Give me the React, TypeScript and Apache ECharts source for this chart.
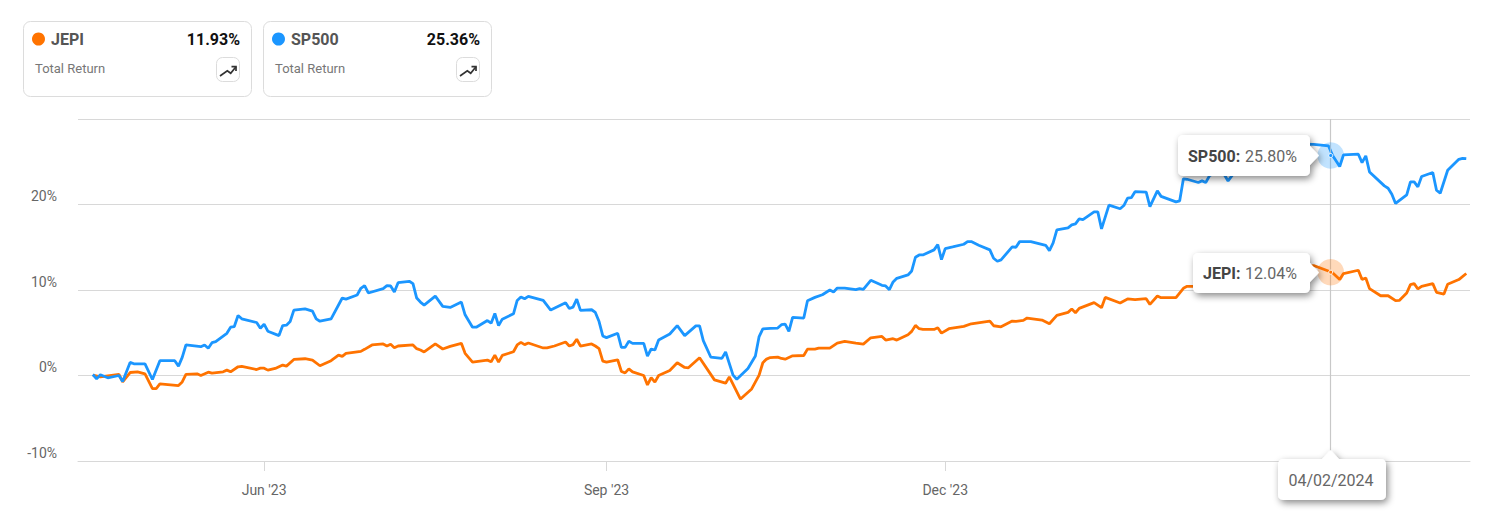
import React, { useEffect, useRef } from "react";
import * as echarts from "echarts";

const axisStart = "2023-04-12";
const axisDayCount = 375;
const firstPointIndex = 4;
const tickDates = ["2023-06-01", "2023-09-01", "2023-12-01"];
const tickLabels = ["Jun '23", "Sep '23", "Dec '23"];

const spDays = [0,1,2,4,7,8,10,11,14,16,18,22,23,24,25,29,30,31,32,33,36,37,38,39,40,44,45,46,47,50,51,52,53,54,57,59,60,61,64,67,68,71,72,73,74,78,79,80,81,82,85,86,87,88,89,92,94,96,99,100,102,103,106,107,108,109,110,113,114,115,116,117,121,123,127,128,129,130,131,134,135,136,137,138,141,142,143,144,145,148,149,150,151,152,155,157,159,162,163,164,166,169,170,172,173,176,178,179,180,182,184,185,186,187,188,191,192,194,196,198,199,200,202,205,206,207,209,212,213,214,215,216,219,220,221,222,223,226,227,228,229,231,234,235,236,238,241,242,243,244,247,248,249,252,256,257,258,259,262,263,264,265,266,269,270,271,273,276,277,278,279,280,283,284,286,287,291,292,293,294,297,298,299,300,303,305,306,308,312,316,321,328,332,333,335,336,340,341,342,343,347,348,349,350,353,354,355,356,357,360,361,362,364,367,368,369];
const spValues = [0.12,-0.39,0.08,-0.27,0,-0.71,1.53,1.37,1.37,-0.47,1.73,1.73,1.1,2.12,3.57,3.37,3.57,3.18,3.84,3.96,4.94,5.65,5.73,7.02,6.63,6.2,5.53,6,5.18,4.67,5.84,5.88,6.31,7.65,7.8,7.53,6.63,6.35,6.63,9.06,8.94,9.41,10.2,10.51,9.65,10.16,10.51,10.47,9.76,10.86,11.02,10.75,9.06,8.59,8.24,9.29,8.08,7.96,8.59,7.1,5.65,5.65,6.43,6.12,7.25,5.84,6.59,7.22,8.78,9.18,8.98,9.25,8.78,7.65,8.51,7.84,8,8.94,7.61,7.69,7.37,6.31,4.63,4.43,4.94,3.29,3.29,4,3.76,3.76,2.27,3.1,2.98,4.16,4.86,5.84,4.67,5.8,5.8,4.08,2.16,2,2.75,0.04,-0.43,0.82,2.27,4.55,5.45,5.5,5.55,5.94,6,5.16,6.8,6.72,8.75,9.14,9.45,10,9.77,10.23,10.23,10.04,10.16,10.08,11.13,10.55,10.47,10.04,10.94,11.37,11.76,12.23,13.83,14.1,14.1,14.69,15.31,13.55,14.84,15.04,15.35,15.66,15.66,15.23,14.69,13.71,13.36,13.52,15.04,15,15.66,15.66,15.23,14.61,15.5,17.03,17.27,17.62,17.73,18.32,18.24,19.14,19.14,17.15,19.92,19.5,19.88,20.75,20.8,21.5,21.45,19.75,21.6,20.95,20.3,20.43,23,22.95,22.57,22.76,22.57,23.35,24.2,22.76,23.35,24.5,25.5,26.5,27.1,27.04,26.85,25.8,24.44,25.8,25.88,24.9,25.68,23.81,22.18,21.9,21.2,20.12,21.13,22.65,22.65,22.06,23.27,23.74,21.67,21.32,24,25.29,25.4,25.36];

const jepiDays = [0,2,4,7,8,10,12,14,16,17,18,23,24,25,28,29,31,32,35,36,37,39,40,44,45,46,47,49,51,52,54,57,59,61,64,66,67,68,72,73,75,78,79,80,81,82,86,87,88,89,92,94,96,99,100,102,106,107,108,109,110,113,114,115,116,117,121,122,124,127,128,129,130,131,134,135,136,137,138,141,142,143,144,145,148,149,150,151,152,155,157,159,160,163,167,170,171,174,177,179,180,181,182,184,185,186,188,191,192,194,195,198,200,202,205,207,209,212,213,215,216,219,220,221,222,223,226,227,228,230,234,236,241,242,244,247,248,250,251,255,257,259,262,263,264,265,269,271,272,276,278,280,283,284,286,287,291,293,294,296,300,305,310,315,320,325,328,333,335,336,340,341,342,343,346,348,350,351,353,354,355,356,357,360,361,363,364,367,369];
const jepiValues = [0.04,-0.16,-0.04,0.12,-0.75,0.35,0.43,0.2,-1.53,-1.53,-0.98,-1.18,-0.75,0.12,0.2,0,0.39,0.27,0.43,0.63,0.43,1.02,1.06,0.7,0.86,0.86,0.63,0.82,1.22,1.1,1.88,1.96,1.8,1.14,1.73,2.39,2.24,2.59,2.82,3.06,3.57,3.69,3.45,3.65,3.25,3.45,3.57,3.14,2.98,2.75,3.69,3.1,3.41,3.76,2.59,1.57,1.8,1.61,2.39,1.57,2.35,2.78,3.57,3.88,3.61,3.8,3.22,3.22,3.45,3.92,3.45,3.61,4.24,3.45,3.69,3.45,3.14,1.69,1.57,1.84,0.47,0.31,0.78,0.43,0,-1.1,-0.24,-0.78,0,0.59,1.49,0.94,0.9,2.08,-0.51,-0.9,-0.16,-2.75,-1.57,0.04,1.49,1.92,2.1,2.15,1.99,1.91,2.3,2.34,3.09,3.09,3.2,3.2,3.79,3.98,3.79,3.67,4.41,4.57,4.14,4.3,4.14,4.77,5.16,5.86,5.47,5.39,5.39,5.59,4.96,5.47,5.74,6.05,6.37,5.82,5.7,6.37,6.33,6.45,6.72,6.48,6.05,7.03,7.38,7.77,7.34,7.85,8.52,7.93,9.14,8.48,8.95,8.87,8.98,8.32,9.3,9.1,9.1,10.2,10.43,10.43,10.6,11,11.3,11.8,12.2,12.7,12.86,12.04,11.22,11.92,12.31,11.22,11.41,10.16,9.33,9.33,8.75,8.78,9.65,10.63,10.75,10.12,10.43,10.75,9.73,9.53,10.67,11.22,11.93];

const ORANGE = "#ff7300";
const BLUE = "#1b96ff";
const FONT = "Roboto";
const DAY = 86400000;
const axisBase = Date.parse(axisStart);
const categories = Array.from({ length: axisDayCount }, (_, i) => new Date(axisBase + i * DAY).toISOString().slice(0, 10));
const tickIndexes = tickDates.map((d) => categories.indexOf(d));
const pairs = (days: number[], values: number[]) => days.map((d, i) => [d + firstPointIndex, values[i]]);

const tipSP = "M1183 135H1305a5 5 0 0 1 5 5V146L1319 155.5L1310 165V171a5 5 0 0 1 -5 5H1183a5 5 0 0 1 -5 -5V140a5 5 0 0 1 5 -5Z";
const tipJE = "M1198 253H1305a5 5 0 0 1 5 5V263L1319 272.5L1310 282V288a5 5 0 0 1 -5 5H1198a5 5 0 0 1 -5 -5V258a5 5 0 0 1 5 -5Z";
const tipDT = "M1283 459H1322L1330.5 450L1339 459H1381a5 5 0 0 1 5 5V495a5 5 0 0 1 -5 5H1283a5 5 0 0 1 -5 -5V464a5 5 0 0 1 5 -5Z";
echarts.graphic.registerShape("tipSP", echarts.graphic.extendPath(tipSP, {}));
echarts.graphic.registerShape("tipJE", echarts.graphic.extendPath(tipJE, {}));
echarts.graphic.registerShape("tipDT", echarts.graphic.extendPath(tipDT, {}));

const txt = (x: number, y: number, text: string, size: number, fill: string, weight = "normal", align = "left") => ({
  type: "text", x, y, z: 30, silent: true,
  style: { text, fontFamily: FONT, fontSize: size, fontWeight: weight, fill, align, verticalAlign: "middle" },
});

const card = (dx: number, color: string, name: string, value: string) => [
  { type: "rect", z: 10, shape: { x: 23.5 + dx, y: 21.5, width: 228, height: 75, r: 7 }, style: { fill: "#fff", stroke: "#dcdcdc", lineWidth: 1 } },
  { type: "circle", z: 11, shape: { cx: 38.5 + dx, cy: 39, r: 6.5 }, style: { fill: color } },
  txt(51 + dx, 39, name, 16, "#555", "bold"),
  txt(240 + dx, 39, value, 16, "#111", "bold", "right"),
  txt(35 + dx, 68.5, "Total Return", 13, "#777"),
  { type: "rect", z: 10, shape: { x: 216.5 + dx, y: 57.5, width: 23, height: 24, r: 6 }, style: { fill: "#fff", stroke: "#dcdcdc", lineWidth: 1 } },
  { type: "polyline", z: 11, shape: { points: [[220 + dx, 76], [227.3 + dx, 70.7], [230.7 + dx, 73.3], [236 + dx, 66.7]] }, style: { stroke: "#333", lineWidth: 1.7, fill: "none" } },
  { type: "polyline", z: 11, shape: { points: [[231.5 + dx, 66.7], [236 + dx, 66.7], [236 + dx, 71]] }, style: { stroke: "#333", lineWidth: 1.7, fill: "none" } },
];

const shadow = { shadowBlur: 7, shadowOffsetX: 2, shadowOffsetY: 3, shadowColor: "rgba(0,0,0,0.45)" };
const isTick = (i: number) => tickIndexes.includes(i);

export default function App() {
  const ref = useRef<HTMLDivElement>(null);
  useEffect(() => {
    document.body.style.margin = "0";
    const chart = echarts.init(ref.current!, null, { renderer: "svg" });
    chart.setOption({
      animation: false,
      backgroundColor: "#fff",
      grid: { left: 78, right: 18, top: 119, bottom: 63 },
      xAxis: {
        type: "category",
        data: categories,
        boundaryGap: false,
        axisLine: { onZero: false, lineStyle: { color: "#d8d8d8", width: 1 } },
        axisTick: { show: true, length: 10, lineStyle: { color: "#d8d8d8" }, interval: isTick },
        axisLabel: {
          show: true,
          interval: isTick,
          hideOverlap: false,
          margin: 22,
          color: "#666",
          fontFamily: FONT,
          fontSize: 14,
          formatter: (v: string) => tickLabels[tickDates.indexOf(v)] ?? "",
        },
        splitLine: { show: false },
      },
      yAxis: {
        type: "value",
        min: -10,
        max: 30,
        interval: 10,
        axisLine: { show: false },
        axisTick: { show: false },
        splitLine: { lineStyle: { color: "#d8d8d8", width: 1 } },
        axisLabel: {
          margin: 21,
          color: "#666",
          fontFamily: FONT,
          fontSize: 14,
          verticalAlign: "bottom",
          lineHeight: 17,
          formatter: (v: number) => (v === 30 ? "" : `${v}%`),
        },
      },
      series: [
        { name: "JEPI", type: "line", data: pairs(jepiDays, jepiValues), showSymbol: false, symbol: "none", lineStyle: { color: ORANGE, width: 2.8 }, itemStyle: { color: ORANGE }, z: 3 },
        { name: "SP500", type: "line", data: pairs(spDays, spValues), showSymbol: false, symbol: "none", lineStyle: { color: BLUE, width: 2.8 }, itemStyle: { color: BLUE }, z: 4 },
      ],
      graphic: [
        ...card(0, ORANGE, "JEPI", "11.93%"),
        ...card(240, BLUE, "SP500", "25.36%"),
        { type: "line", z: 8, shape: { x1: 1330.5, y1: 119, x2: 1330.5, y2: 452 }, style: { stroke: "#c8c8c8", lineWidth: 1.2 } },
        { type: "circle", z: 9, shape: { cx: 1330.7, cy: 155.5, r: 13.3 }, style: { fill: "rgba(27,150,255,0.27)" } },
        { type: "circle", z: 9, shape: { cx: 1330.7, cy: 272.2, r: 13.3 }, style: { fill: "rgba(255,115,0,0.27)" } },
        { type: "circle", z: 20, shape: { cx: 1330.7, cy: 155.5, r: 2 }, style: { fill: BLUE, stroke: "#fff", lineWidth: 1 } },
        { type: "circle", z: 20, shape: { cx: 1330.7, cy: 272.2, r: 2 }, style: { fill: ORANGE, stroke: "#fff", lineWidth: 1 } },
        { type: "tipSP", z: 15, x: 0, y: 0, style: { fill: "#fff", ...shadow } },
        { type: "tipJE", z: 15, x: 0, y: 0, style: { fill: "#fff", ...shadow } },
        { type: "tipDT", z: 15, x: 0, y: 0, style: { fill: "#fff", ...shadow } },
        txt(1188, 156, "SP500:", 16, "#444", "bold"),
        txt(1297, 156, "25.80%", 16, "#666", "normal", "right"),
        txt(1203, 273, "JEPI:", 16, "#444", "bold"),
        txt(1297, 273, "12.04%", 16, "#666", "normal", "right"),
        txt(1331, 480, "04/02/2024", 16, "#666", "normal", "center"),
      ],
    });
    return () => chart.dispose();
  }, []);
  return <div ref={ref} style={{ width: 1488, height: 524, position: "absolute", left: 0, top: 0 }} />;
}
